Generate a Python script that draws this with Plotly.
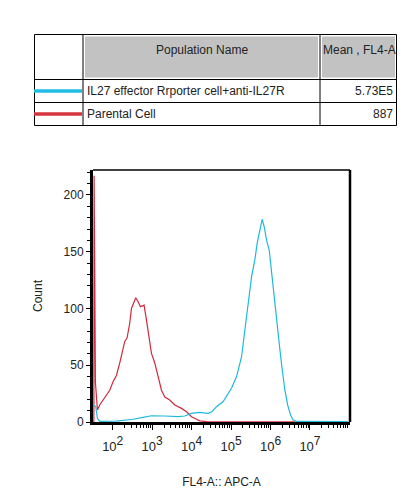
import plotly.graph_objects as go

# table content
populations = ["IL27 effector Rrporter cell+anti-IL27R", "Parental Cell"]
means = ["5.73E5", "887"]
colors = ["#22bde2", "#d6343f"]
headers = ["Population Name", "Mean , FL4-A"]

# histogram traces, x as log10(FL4-A)
blue_lg = [1.525, 1.569, 1.612, 1.67, 2.094, 2.388, 2.515, 2.769, 2.982, 3.32, 3.657,
           3.827, 3.997, 4.208, 4.419, 4.513, 4.632, 4.8, 5.013, 5.14, 5.266, 5.35,
           5.434, 5.52, 5.604, 5.662, 5.731, 5.789, 5.84, 5.901, 5.967, 6.028, 6.094,
           6.17, 6.239, 6.297, 6.365, 6.434, 6.51, 6.576, 6.662, 7.964]
blue_count = [15, 13.5, 3.2, 0.5, 0.8, 1.8, 2.4, 4, 5.5, 5.3, 4.7,
              5.3, 7.6, 8.5, 7.6, 9, 13.5, 18, 30, 40, 57.5, 81,
              104.5, 128, 143, 157.5, 169, 178.6, 172, 160, 151.5, 131, 107.5,
              84, 63.4, 46, 28, 15, 6, 1.8, 0.5, 0.3]

red_lg = [1.522, 1.528, 1.543, 1.561, 1.612, 1.67, 1.797, 1.924, 2.008, 2.094, 2.178,
          2.261, 2.305, 2.363, 2.431, 2.475, 2.533, 2.584, 2.642, 2.703, 2.769,
          2.794, 2.855, 2.914, 2.982, 3.066, 3.15, 3.236, 3.32, 3.447, 3.574,
          3.744, 3.871, 3.997, 4.124, 4.208, 4.378, 7.964]
red_count = [0, 217, 137, 35, 10.6, 15, 22, 28, 35.5, 41, 52,
             63, 71, 74, 87, 100, 104.5, 109.5, 106, 101.6, 102.5,
             103, 90, 75, 60.5, 52, 40, 28, 22, 19.4, 15,
             12, 9, 4.7, 2.4, 1, 0.3, 0]

x_ticks = [2, 3, 4, 5, 6, 7]
y_ticks = [0, 50, 100, 150, 200]

FONT = "Liberation Sans, Arial, sans-serif"

# page pixels; the html body adds an 8px margin around the figure
OFF = 8
W, H = 413 - OFF, 495 - OFF
L, R, T, B = 93 - OFF, 350 - OFF, 170 - OFF, 422 - OFF


def px(x):
    return (x - OFF - L) / (R - L)


def py(y):
    return (B - (y - OFF)) / (B - T)


fig = go.Figure()
fig.add_trace(go.Scatter(x=[10 ** v for v in red_lg], y=red_count, mode="lines",
                         line=dict(color="#cf2a3c", width=1.2), hoverinfo="skip"))
fig.add_trace(go.Scatter(x=[10 ** v for v in blue_lg], y=blue_count, mode="lines",
                         line=dict(color="#1fb9dc", width=1.2), hoverinfo="skip"))

minor_vals = [m * 10 ** d for d in range(2, 8) for m in range(2, 10)]

fig.update_xaxes(type="log", range=[1.5, 8.015], automargin=False,
                 tickvals=[10 ** d for d in x_ticks],
                 ticktext=["10<sup><span style='font-size:12px'>%d</span></sup>" % d
                           for d in x_ticks],
                 ticks="outside", ticklen=5, tickwidth=1, tickcolor="black",
                 ticklabelstandoff=5,
                 minor=dict(tickvals=minor_vals, ticks="outside", ticklen=3,
                            tickwidth=1, tickcolor="black"),
                 showgrid=False, zeroline=False, showline=True, linecolor="black",
                 linewidth=3, tickfont=dict(size=13, color="#222"),
                 title=dict(text="FL4-A:: APC-A", standoff=26,
                            font=dict(size=12, color="#222")))
fig.update_yaxes(range=[0, 222], automargin=False, tickvals=y_ticks,
                 ticks="outside", ticklen=4, tickwidth=1, tickcolor="black",
                 minor=dict(dtick=10, ticks="outside", ticklen=3, tickwidth=1,
                            tickcolor="black"),
                 showgrid=False, zeroline=False, showline=True, linecolor="black",
                 linewidth=3, tickfont=dict(size=12, color="#222"),
                 title=dict(text="Count", standoff=19,
                            font=dict(size=12, color="#222")))

shapes = []
# top and right frame
shapes.append(dict(type="line", xref="paper", yref="paper", x0=0, x1=1, y0=1, y1=1,
                   line=dict(color="black", width=1.5)))
shapes.append(dict(type="line", xref="paper", yref="paper", x0=1, x1=1, y0=0, y1=1,
                   line=dict(color="black", width=2.5)))

# table
tl, tr, tt, tb = 34.5, 396.5, 34.5, 125.5
c1, c2 = 83, 320
r1, r2 = 79.5, 102.5
gray = dict(type="rect", xref="paper", yref="paper", fillcolor="#c2c2c2",
            line=dict(width=0), layer="above")
shapes.append(dict(gray, x0=px(c1 + 2), x1=px(c2 - 2), y0=py(r1 - 2), y1=py(tt + 2)))
shapes.append(dict(gray, x0=px(c2 + 2), x1=px(tr - 1.5), y0=py(r1 - 2), y1=py(tt + 2)))
border = dict(color="black", width=1)
shapes.append(dict(type="rect", xref="paper", yref="paper", x0=px(tl), x1=px(tr),
                   y0=py(tb), y1=py(tt), line=border))
for cx in (c1, c2):
    shapes.append(dict(type="line", xref="paper", yref="paper", x0=px(cx), x1=px(cx),
                       y0=py(tb), y1=py(tt), line=border))
for ry in (r1, r2):
    shapes.append(dict(type="line", xref="paper", yref="paper", x0=px(tl), x1=px(tr),
                       y0=py(ry), y1=py(ry), line=border))

annotations = []
tfont = dict(family=FONT, size=12, color="#222")
annotations.append(dict(text=headers[0], x=px((c1 + c2) / 2), y=py(50), xref="paper",
                        yref="paper", showarrow=False, font=tfont,
                        xanchor="center", yanchor="middle"))
annotations.append(dict(text=headers[1], x=px(c2 + 1), y=py(50), xref="paper",
                        yref="paper", showarrow=False, font=tfont,
                        xanchor="left", yanchor="middle"))
row_y = [91, 114]
for i in range(len(populations)):
    shapes.append(dict(type="line", xref="paper", yref="paper", x0=px(34), x1=px(82),
                       y0=py(row_y[i]), y1=py(row_y[i]),
                       line=dict(color=colors[i], width=3.5)))
    annotations.append(dict(text=populations[i], x=px(c1 + 2), y=py(row_y[i]),
                            xref="paper", yref="paper", showarrow=False, font=tfont,
                            xanchor="left", yanchor="middle"))
    annotations.append(dict(text=means[i], x=px(tr - 1.5), y=py(row_y[i]),
                            xref="paper", yref="paper", showarrow=False, font=tfont,
                            xanchor="right", yanchor="middle"))

fig.update_layout(width=W, height=H, showlegend=False,
                  margin=dict(l=L, r=W - R, t=T, b=H - B),
                  paper_bgcolor="white", plot_bgcolor="white",
                  font=dict(family=FONT, color="#222"),
                  shapes=shapes, annotations=annotations)

fig.write_html("out.html")
